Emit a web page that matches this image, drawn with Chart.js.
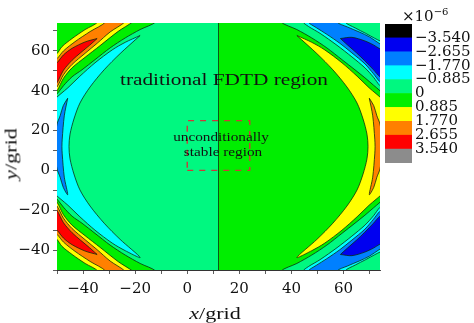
<!DOCTYPE html>
<html><head><meta charset="utf-8">
<script src="https://cdn.jsdelivr.net/npm/chart.js@4/dist/chart.umd.min.js"></script>
<style>
html,body{margin:0;padding:0;background:#fff;}
#wrap{position:relative;width:474px;height:323px;overflow:hidden;background:#fff;}
#main{position:absolute;left:0;top:0;}
#cbar{position:absolute;left:385px;top:0;}
.txt{position:absolute;white-space:nowrap;font-family:"Liberation Serif",serif;color:#111;line-height:1;}
</style></head><body>
<div id="wrap">
<canvas id="main" width="474" height="323"></canvas>
<canvas id="cbar" width="89" height="323"></canvas>
<div class="txt" style="left:224px;top:80px;font-size:16px;transform:translate(-50%,-50%) scaleX(1.33);">traditional FDTD region</div>
<div class="txt" style="left:221px;top:137px;font-size:12.5px;transform:translate(-50%,-50%) scaleX(1.22);">unconditionally</div>
<div class="txt" style="left:223px;top:152px;font-size:12.5px;transform:translate(-50%,-50%) scaleX(1.22);">stable region</div>
<div class="txt" style="left:215px;top:313px;font-size:17px;transform:translate(-50%,-50%) scaleX(1.3);"><i>x</i>/grid</div>
<div class="txt" style="left:11px;top:154px;font-size:17px;transform:translate(-50%,-50%) rotate(-90deg) scaleX(1.3);"><i>y</i>/grid</div>
<div class="txt" style="left:402px;top:7px;font-family:'DejaVu Serif',serif;font-size:15px;">×10<sup style="font-size:10px;vertical-align:6px;">−6</sup></div>
</div>
<script>
// ---------- data ----------
const xRange = [-50, 74];
const yRange = [-50, 74];
const xTickLabels = [-40, -20, 0, 20, 40, 60];
const yTickLabels = [-40, -20, 0, 20, 40, 60];
// colour-bar boundaries, bottom to top
const levelLabels = ['3.540', '2.655', '1.770', '0.885', '0', '−0.885', '−1.770', '−2.655', '−3.540'];

// zero contour (vertical) and the dashed box
const zeroLine = [[12, -60], [12, 84]];
const stableBox = [[0, 0], [24, 0], [24, 25], [0, 25], [0, 0]];

// half-plane backgrounds
const leftHalf = [[-60, -60], [12, -60], [12, 84], [-60, 84]];
const rightHalf = [[12, -60], [84, -60], [84, 84], [12, 84]];

// ----- left side contour regions -----
const greenTL = [[-10.5,80],[-11.9,74.7],[-18.1,70.7],[-23.8,66.5],[-29.6,61.5],[-35.4,55.6],[-40.4,50.5],[-44.2,47],[-47.5,42.5],[-50,38.4],[-52,36],[-60,33],[-60,90],[-10,90]];
const greenBL = [[-10.5,-56],[-11.9,-50.7],[-18.1,-46.7],[-23.8,-42.5],[-29.6,-37.5],[-35.4,-31.6],[-40.4,-26.5],[-44.2,-23],[-47.5,-18.5],[-50,-14.4],[-52,-12],[-60,-9],[-60,-66],[-10,-66]];
const yellowTL = [[-33.5,80],[-34.2,74.7],[-39.2,70.7],[-44.2,66.2],[-48.1,62.1],[-50,58.6],[-52,56.5],[-54,55],[-54,37],[-52,37.5],[-50,39.9],[-47.5,46.3],[-44.2,51.5],[-39.2,56.8],[-33.5,62.6],[-26.5,69.8],[-20.8,74.7],[-18.5,78],[-18,80]];
const yellowBL = [[-33.5,-56],[-34.2,-50.7],[-39.2,-46.7],[-44.2,-42.2],[-48.1,-38.1],[-50,-34.6],[-52,-32.5],[-54,-31],[-54,-13],[-52,-13.5],[-50,-15.9],[-47.5,-22.3],[-44.2,-27.5],[-39.2,-32.8],[-33.5,-38.6],[-26.5,-45.8],[-20.8,-50.7],[-18.5,-54],[-18,-56]];
const orangeTL = [[-30.5,80],[-31.2,74.7],[-37.3,69.7],[-43.1,64.6],[-47.5,60],[-50,56.1],[-52,54.5],[-54,53.5],[-54,39],[-52,39.8],[-50,41.9],[-47.5,48],[-44.2,53.2],[-39.2,58.8],[-34.6,63.8],[-29.6,69.5],[-23.8,74.7],[-21.5,80]];
const orangeBL = [[-30.5,-56],[-31.2,-50.7],[-37.3,-45.7],[-43.1,-40.6],[-47.5,-36],[-50,-32.1],[-52,-30.5],[-54,-29.5],[-54,-15],[-52,-15.8],[-50,-17.9],[-47.5,-24],[-44.2,-29.2],[-39.2,-34.8],[-34.6,-39.8],[-29.6,-45.5],[-23.8,-50.7],[-21.5,-56]];
const redTL = [[-34.6,66.2],[-39.2,64.5],[-44.2,61.3],[-47.5,58],[-50,54],[-52,52],[-54,51],[-54,40],[-52,41],[-50,44],[-47.5,50.3],[-44.2,55.3],[-41,59],[-37.5,62.8],[-34.6,66.2]];
const redBL = [[-34.6,-42.2],[-39.2,-40.5],[-44.2,-37.3],[-47.5,-34],[-50,-30],[-52,-28],[-54,-27],[-54,-16],[-52,-17],[-50,-20],[-47.5,-26.3],[-44.2,-31.3],[-41,-35],[-37.5,-38.8],[-34.6,-42.2]];
const cyanL = [[-18.1,67.7],[-23.8,64.3],[-28.8,60.5],[-35.4,54],[-41.2,47.3],[-45.8,41.5],[-48.5,38.5],[-50,36.8],[-52.7,33],[-55,12],[-52.7,-9],[-50,-12.8],[-48.5,-14.5],[-45.8,-17.5],[-41.2,-23.3],[-35.4,-30],[-28.8,-36.5],[-23.8,-40.3],[-18.1,-43.7],[-25.8,-34.6],[-31.9,-26.5],[-37.3,-17.9],[-41.2,-9.8],[-43.5,-1.8],[-45,5.8],[-45.4,12],[-45,18.2],[-43.5,25.8],[-41.2,33.8],[-37.3,41.9],[-31.9,50.5],[-25.8,58.6],[-18.1,67.7]];
const blueL = [[-45.9,36.2],[-47.2,27.4],[-48,15.7],[-48.1,12],[-48,8.3],[-47.2,-3.4],[-45.9,-12.2],[-47.6,-8.5],[-48.8,-3.4],[-50,0.8],[-51.2,12],[-50,23.2],[-48.8,27.4],[-47.6,32.5],[-45.9,36.2]];

// ----- right side contour regions -----
const springTR = [[35,80],[35.8,74.7],[42.1,70.7],[47.8,66.5],[53.6,61.5],[59.4,55.6],[64.4,50.5],[68.2,46.5],[71.5,42.8],[74,40],[76,37.5],[84,33],[84,90],[34,90]];
const springBR = [[35,-56],[35.8,-50.7],[42.1,-46.7],[47.8,-42.5],[53.6,-37.5],[59.4,-31.6],[64.4,-26.5],[68.2,-22.5],[71.5,-18.8],[74,-16],[76,-13.5],[84,-9],[84,-66],[34,-66]];
const cyanTR = [[60,80],[60.4,74.7],[64.5,71.5],[68.5,68.8],[72,66.3],[74,65],[76,64],[78,63.2],[78,40.5],[76,41.2],[74,42.5],[71.5,46.8],[68.2,51.5],[63.2,57],[57.5,62.8],[51,68.8],[46.5,72.3],[44.2,74.7],[42,80]];
const cyanBR = [[60,-56],[60.4,-50.7],[64.5,-47.5],[68.5,-44.8],[72,-42.3],[74,-41],[76,-40],[78,-39.2],[78,-16.5],[76,-17.2],[74,-18.5],[71.5,-22.8],[68.2,-27.5],[63.2,-33],[57.5,-38.8],[51,-44.8],[46.5,-48.3],[44.2,-50.7],[42,-56]];
const mblueTR = [[57,80],[57.3,74.7],[61.5,72],[66,69.5],[70,67],[74,63.5],[76,62.3],[78,61.5],[78,43],[76,43.6],[74,44.5],[71.5,48.5],[68.2,53.5],[63.2,59],[58.6,63.8],[53.6,68.3],[49.5,71.7],[46.2,74.7],[44.5,80]];
const mblueBR = [[57,-56],[57.3,-50.7],[61.5,-48],[66,-45.5],[70,-43],[74,-39.5],[76,-38.3],[78,-37.5],[78,-19],[76,-19.6],[74,-20.5],[71.5,-24.5],[68.2,-29.5],[63.2,-35],[58.6,-39.8],[53.6,-44.3],[49.5,-47.7],[46.2,-50.7],[44.5,-56]];
const dblueTR = [[58.8,66.2],[63.2,66.8],[68.2,65],[71.5,63],[74,61],[76,60],[78,59],[78,45.5],[76,46],[74,47],[71.5,50.5],[68.2,55],[65,59],[61.5,63],[58.8,66.2]];
const dblueBR = [[58.8,-42.2],[63.2,-42.8],[68.2,-41],[71.5,-39],[74,-37],[76,-36],[78,-35],[78,-21.5],[76,-22],[74,-23],[71.5,-26.5],[68.2,-31],[65,-35],[61.5,-39],[58.8,-42.2]];
const yellowR = [[42.1,67.7],[47.8,64.3],[52.8,60.5],[59.4,54],[65.2,47.3],[69.8,41.5],[72.5,38.5],[74,36.8],[76.7,33],[79,12],[76.7,-9],[74,-12.8],[72.5,-14.5],[69.8,-17.5],[65.2,-23.3],[59.4,-30],[52.8,-36.5],[47.8,-40.3],[42.1,-43.7],[49.8,-34.6],[55.9,-26.5],[61.3,-17.9],[65.2,-9.8],[67.5,-1.8],[69,5.8],[69.4,12],[69,18.2],[67.5,25.8],[65.2,33.8],[61.3,41.9],[55.9,50.5],[49.8,58.6],[42.1,67.7]];
const orangeR = [[69.9,36.2],[71.2,27.4],[72,15.7],[72.1,12],[72,8.3],[71.2,-3.4],[69.9,-12.2],[71.6,-8.5],[72.8,-3.4],[74,0.8],[75.2,12],[74,23.2],[72.8,27.4],[71.6,32.5],[69.9,36.2]];

// ---------- styles ----------
// colour bands, bottom to top of the colour bar
const bandColors = ['#8c8c8c','#ff0000','#ff8000','#ffff00','#00ee00','#00f880','#00ffff','#0080ff','#0000f0','#000000'];
const B = {gray:0, red:1, orange:2, yellow:3, green:4, spring:5, cyan:6, mblue:7, blue:8, black:9};
const contourLine = 'rgba(10,40,10,0.85)';

const layers = [
  {pts: leftHalf, band: B.spring, edge: false},
  {pts: rightHalf, band: B.green, edge: false},
  {pts: greenTL, band: B.green}, {pts: greenBL, band: B.green},
  {pts: yellowTL, band: B.yellow}, {pts: yellowBL, band: B.yellow},
  {pts: orangeTL, band: B.orange}, {pts: orangeBL, band: B.orange},
  {pts: redTL, band: B.red}, {pts: redBL, band: B.red},
  {pts: cyanL, band: B.cyan}, {pts: blueL, band: B.mblue},
  {pts: springTR, band: B.spring}, {pts: springBR, band: B.spring},
  {pts: cyanTR, band: B.cyan}, {pts: cyanBR, band: B.cyan},
  {pts: mblueTR, band: B.mblue}, {pts: mblueBR, band: B.mblue},
  {pts: dblueTR, band: B.blue}, {pts: dblueBR, band: B.blue},
  {pts: yellowR, band: B.yellow}, {pts: orangeR, band: B.orange}
];

const toXY = a => a.map(([x, y]) => ({x, y}));
const N = layers.length + 2;
const datasets = layers.map((L, i) => ({
  data: toXY(L.pts),
  showLine: true,
  fill: 'shape',
  backgroundColor: bandColors[L.band],
  borderColor: L.edge === false ? 'rgba(0,0,0,0)' : contourLine,
  borderWidth: L.edge === false ? 0 : 0.9,
  pointRadius: 0,
  tension: 0.3,
  order: N - i
}));
datasets.push({data: toXY(zeroLine), showLine: true, fill: false, borderColor: contourLine, borderWidth: 0.9, pointRadius: 0, order: 1});
datasets.push({data: toXY(stableBox), showLine: true, fill: false, borderColor: '#cc3a3a', borderWidth: 1.4, borderDash: [6, 6], pointRadius: 0, tension: 0, order: 0});

const fmt = v => (v < 0 ? '\u2212' + Math.abs(v) : String(v));
const tickFont = {family: 'DejaVu Serif', size: 15};

new Chart(document.getElementById('main'), {
  type: 'scatter',
  data: {datasets},
  options: {
    responsive: false, animation: false, devicePixelRatio: 1,
    layout: {padding: {left: 0, right: 94, top: 23, bottom: 0}},
    elements: {line: {capBezierPoints: false, borderJoinStyle: 'round'}},
    plugins: {legend: {display: false}, tooltip: {enabled: false}},
    scales: {
      x: {
        type: 'linear', min: xRange[0], max: xRange[1],
        ticks: {stepSize: 10, includeBounds: false, autoSkip: false, maxRotation: 0, padding: 6,
          callback: v => xTickLabels.includes(v) ? fmt(v) : '', font: tickFont, color: '#111'},
        grid: {drawOnChartArea: false, drawTicks: true, tickLength: 4, color: '#333', lineWidth: 0.8},
        border: {display: true, color: '#333', width: 1},
        afterFit(s) { s.height = 53; }
      },
      y: {
        type: 'linear', min: yRange[0], max: yRange[1],
        ticks: {stepSize: 10, includeBounds: false, autoSkip: false, padding: 3,
          callback: v => yTickLabels.includes(v) ? fmt(v) : '', font: tickFont, color: '#111'},
        grid: {drawOnChartArea: false, drawTicks: true, tickLength: 4, color: '#333', lineWidth: 0.8},
        border: {display: true, color: '#333', width: 1},
        afterFit(s) { s.width = 57; }
      }
    }
  }
});

// colour bar
new Chart(document.getElementById('cbar'), {
  type: 'bar',
  data: {
    labels: [''],
    datasets: bandColors.map(c => ({data: [1], backgroundColor: c, borderWidth: 0, barPercentage: 1, categoryPercentage: 1}))
  },
  options: {
    responsive: false, animation: false, devicePixelRatio: 1,
    layout: {padding: {left: 0, right: 0, top: 24, bottom: 160}},
    plugins: {legend: {display: false}, tooltip: {enabled: false}},
    scales: {
      x: {display: false, stacked: true},
      y: {
        stacked: true, position: 'right', min: 0, max: levelLabels.length + 1,
        ticks: {stepSize: 1, autoSkip: false, padding: 3, font: tickFont, color: '#111',
          callback: v => (v >= 1 && v <= levelLabels.length) ? levelLabels[v - 1] : ''},
        grid: {display: false, drawTicks: false},
        border: {display: false},
        afterFit(s) { s.width = 62; }
      }
    }
  }
});
</script>
</body></html>
